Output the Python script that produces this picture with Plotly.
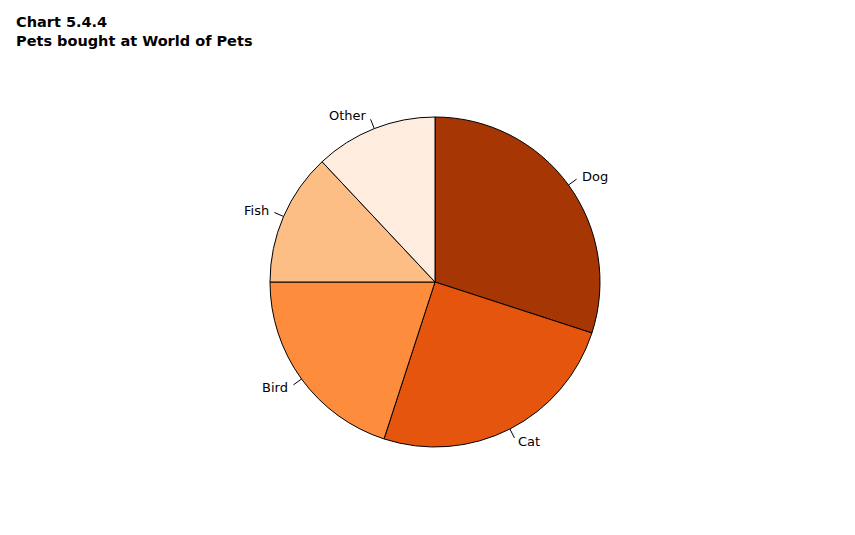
import numpy as np
import plotly.graph_objects as go

# data
pets = ["Dog", "Cat", "Bird", "Fish", "Other"]
counts = [30, 25, 20, 13, 12]
colors = ["#A63603", "#E6550D", "#FD8D3C", "#FDBE85", "#FEEDDE"]

W, H = 855, 535
OFF = 8  # page body margin
cx, cy, R = 435 - OFF, 282 - OFF, 165  # pie centre / radius in pixels

fig = go.Figure()
fig.add_trace(go.Pie(
    labels=pets,
    values=counts,
    sort=False,
    direction="clockwise",
    rotation=0,
    marker=dict(colors=colors, line=dict(color="black", width=1)),
    textinfo="none",
    hoverinfo="label+value",
    domain=dict(x=[(cx - R) / W, (cx + R) / W], y=[(H - cy - R) / H, (H - cy + R) / H]),
    showlegend=False,
))

# leader ticks + labels, placed at each slice's mid angle
shapes = []
annotations = []
total = sum(counts)
start = 0.0
for name, v in zip(pets, counts):
    mid = np.radians((start + v / 2) / total * 360)
    start += v
    s, c = np.sin(mid), np.cos(mid)
    x0, y0 = cx + R * s, cy - R * c
    x1, y1 = cx + (R + 10) * s, cy - (R + 10) * c
    xl, yl = cx + (R + 14) * s, cy - (R + 14) * c
    shapes.append(dict(type="line", xref="paper", yref="paper",
                       x0=x0 / W, y0=1 - y0 / H, x1=x1 / W, y1=1 - y1 / H,
                       line=dict(color="black", width=1)))
    annotations.append(dict(x=xl / W, y=1 - yl / H, xref="paper", yref="paper",
                            text=name, showarrow=False,
                            xanchor="left" if s > 0 else "right", yanchor="middle",
                            font=dict(size=13, color="black")))

# chart title (two bold lines, top left)
annotations.append(dict(
    x=(14 - OFF) / W, y=1 - (12 - OFF) / H, xref="paper", yref="paper",
    text="<b>Chart 5.4.4<br>Pets bought at World of Pets</b>",
    showarrow=False, xanchor="left", yanchor="top", align="left",
    font=dict(size=14.5, color="black"),
))

fig.update_layout(
    width=W, height=H,
    margin=dict(l=0, r=0, t=0, b=0),
    paper_bgcolor="white",
    font=dict(family="DejaVu Sans, Verdana, sans-serif"),
    shapes=shapes,
    annotations=annotations,
)

fig.write_html("out.html")
